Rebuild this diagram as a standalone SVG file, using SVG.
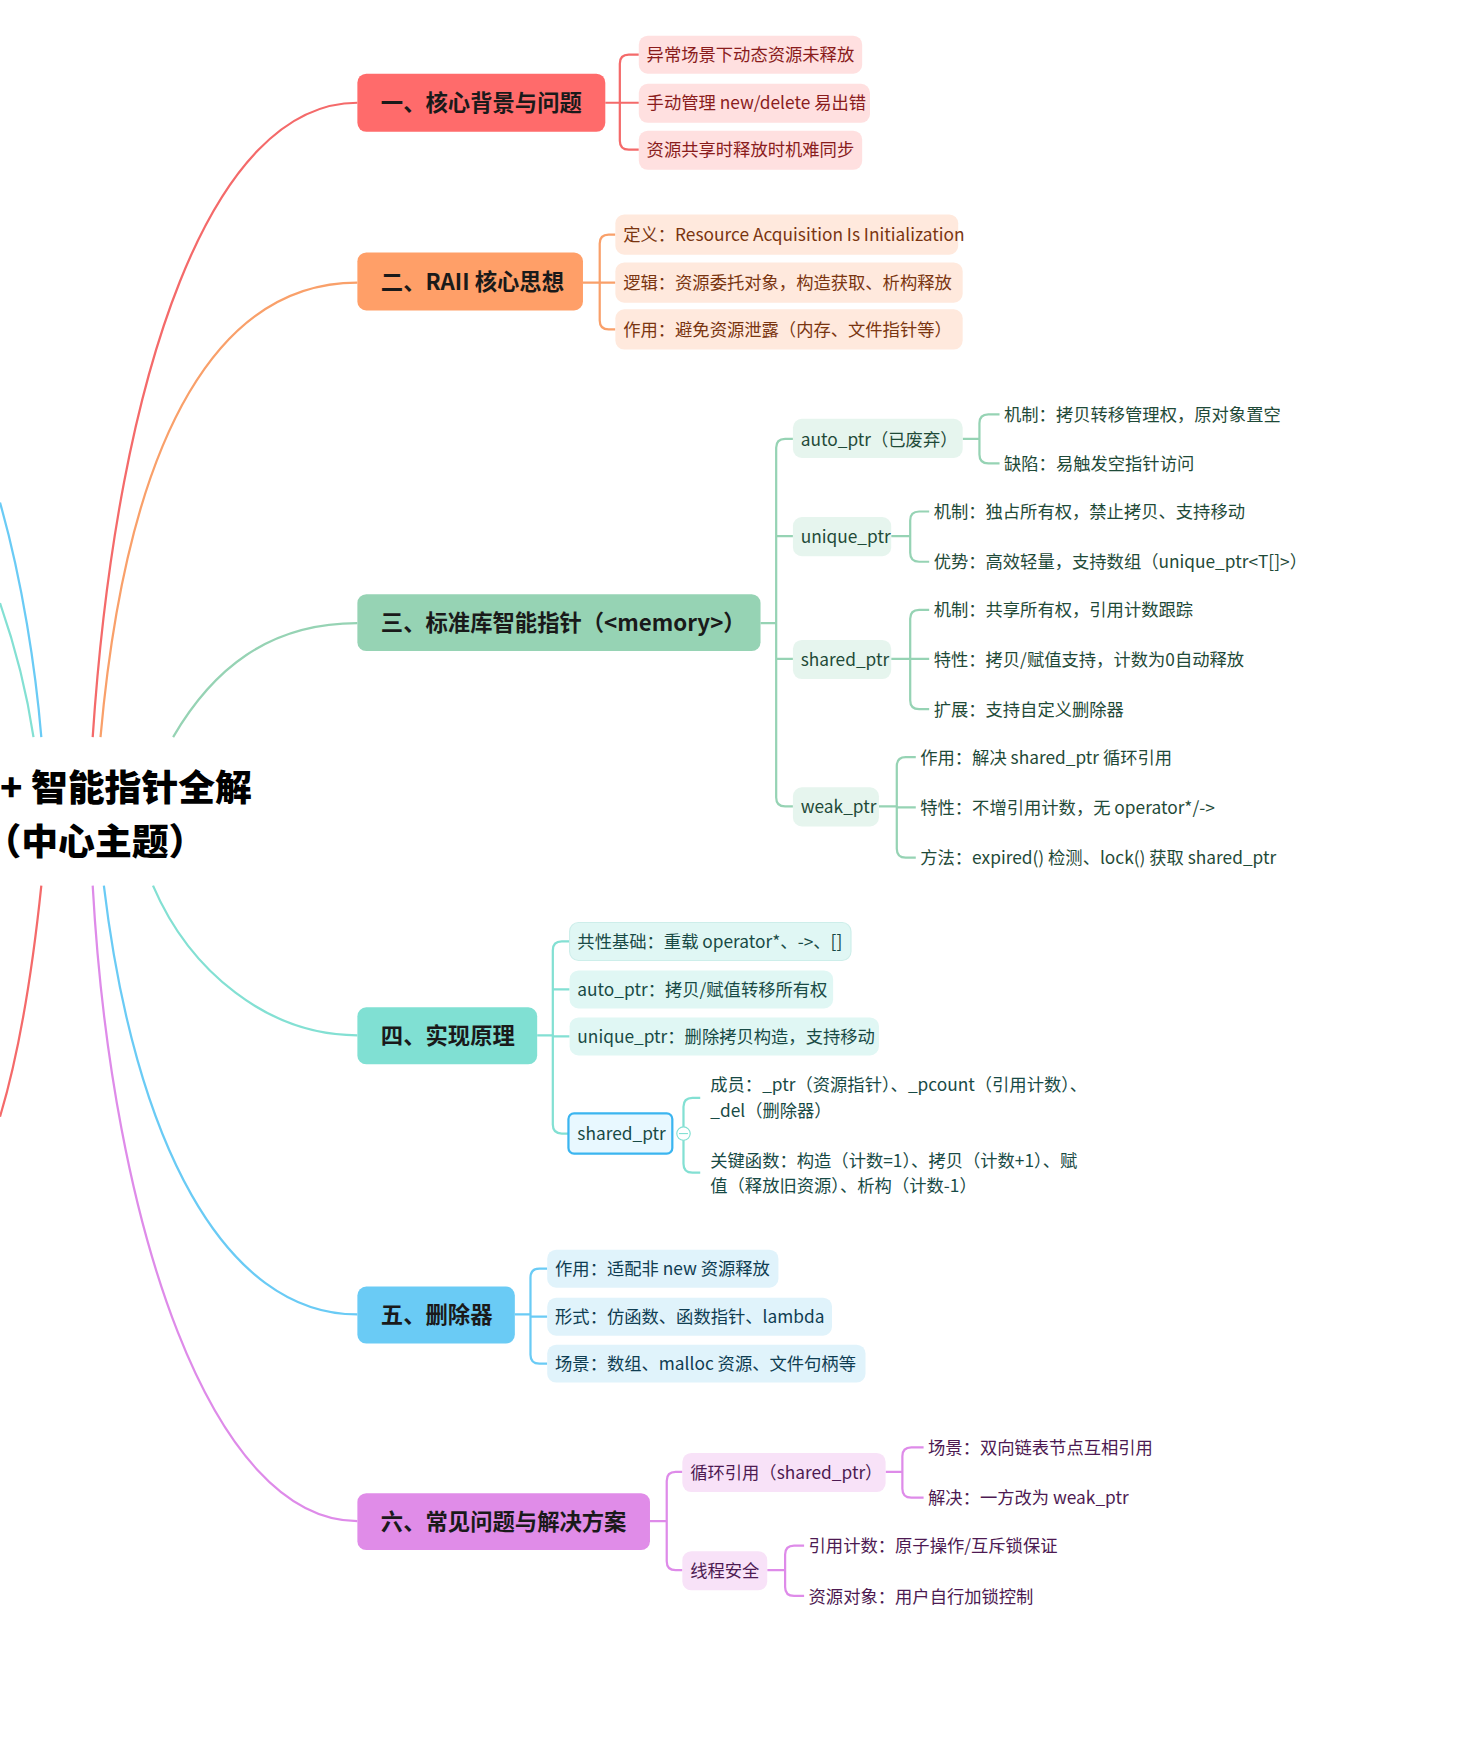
<svg xmlns="http://www.w3.org/2000/svg" width="1482" height="1747" viewBox="0 0 1482 1747">
<style>
text{font-family:"Noto Sans CJK SC","Noto Sans",sans-serif;font-size:15.5px}
.main{font-size:20px;font-weight:bold;fill:#1a1a1a}
.root{font-size:33px;font-weight:900;fill:#000}
.c{fill:none;stroke-width:2}
.r{stroke:#F46A6A}.o{stroke:#F9A06A}.g{stroke:#96D3B4}.t{stroke:#83E0D3}.b{stroke:#6ACBF5}.p{stroke:#DE8BE9}
.tr{fill:#8a1c1c}.to{fill:#7a3510}.tg{fill:#1f4a38}.tt{fill:#184a45}.tb{fill:#0f3d52}.tp{fill:#4d1a52}
</style>
<rect width="1482" height="1747" fill="#fff"/>
<g transform="scale(1.1168)">
<g id="connectors">
<path class="c r" d="M83 660 C105 330 190 92 320 92"/>
<path class="c o" d="M90 660 C115 380 200 253 320 253"/>
<path class="c g" d="M155 660 C190 600 240 558 320 558"/>
<path class="c t" d="M137 793 C170 870 240 927 320 927"/>
<path class="c b" d="M93 793 C120 1020 200 1177 320 1177"/>
<path class="c p" d="M83 793 C100 1100 190 1362 320 1362"/>
<path class="c b" d="M0 450 C20 520 32 600 37 660"/>
<path class="c t" d="M0 540 C14 580 24 620 30 660"/>
<path class="c r" d="M37 793 C30 860 18 940 0 1000"/>
<path class="c r" d="M542 92 H555 M572 49 H563 Q555 49 555 57 V126 Q555 134 563 134 H572 M555 92 H572"/>
<path class="c o" d="M522 253 H537 M551 210 H545 Q537 210 537 218 V287 Q537 295 545 295 H551 M537 253 H551"/>
<path class="c g" d="M681 558 H695 M710 393 H703 Q695 393 695 401 V714 Q695 722 703 722 H710 M695 480 H710 M695 590 H710"/>
<path class="c g" d="M862 393 H877 M895 371 H885 Q877 371 877 379 V407 Q877 415 885 415 H895"/>
<path class="c g" d="M798 480 H815 M832 458 H823 Q815 458 815 466 V495 Q815 503 823 503 H832"/>
<path class="c g" d="M798 590 H815 M832 546 H823 Q815 546 815 554 V627 Q815 635 823 635 H832 M815 590 H832"/>
<path class="c g" d="M787 722 H803 M820 678 H811 Q803 678 803 686 V760 Q803 768 811 768 H820 M803 723 H820"/>
<path class="c t" d="M481 927 H495 M510 843 H503 Q495 843 495 851 V1007 Q495 1015 503 1015 H509 M495 886 H510 M495 928 H510"/>
<path class="c t" d="M618 1015 H612 M627 983 H620 Q612 983 612 991 V1042 Q612 1050 620 1050 H627"/>
<path class="c b" d="M461 1177 H475 M490 1136 H483 Q475 1136 475 1144 V1213 Q475 1221 483 1221 H490 M475 1179 H490"/>
<path class="c p" d="M582 1362 H597 M611 1318 H605 Q597 1318 597 1326 V1398 Q597 1406 605 1406 H611"/>
<path class="c p" d="M793 1318 H808 M827 1296 H816 Q808 1296 808 1304 V1333 Q808 1341 816 1341 H827"/>
<path class="c p" d="M687 1406 H703 M720 1384 H711 Q703 1384 703 1392 V1421 Q703 1429 711 1429 H720"/>
</g>
<g id="root">
<text class="root" x="0" y="717">+ 智能指针全解</text>
<text class="root" x="-14" y="766">（中心主题）</text>
</g>
<g id="n1"><rect x="320" y="66" width="222" height="52" rx="8" fill="#FF6B6B"/><text class="main" x="341" y="99">一、核心背景与问题</text></g>
<g id="n1a"><rect x="572" y="32" width="200" height="34" rx="8" fill="#FFE0E0"/><text class="tr" x="579" y="55">异常场景下动态资源未释放</text></g>
<g id="n1b"><rect x="572" y="75" width="207" height="35" rx="8" fill="#FFE0E0"/><text class="tr" x="579" y="98">手动管理 new/delete 易出错</text></g>
<g id="n1c"><rect x="572" y="117" width="200" height="35" rx="8" fill="#FFE0E0"/><text class="tr" x="579" y="140">资源共享时释放时机难同步</text></g>

<g id="n2"><rect x="320" y="226" width="202" height="52" rx="8" fill="#FF9F68"/><text class="main" x="341" y="260">二、RAII 核心思想</text></g>
<g id="n2a"><rect x="551" y="192" width="307" height="36" rx="8" fill="#FFE9DD"/><text class="to" x="558" y="216">定义：Resource Acquisition Is Initialization</text></g>
<g id="n2b"><rect x="551" y="235" width="311" height="36" rx="8" fill="#FFE9DD"/><text class="to" x="558" y="259">逻辑：资源委托对象，构造获取、析构释放</text></g>
<g id="n2c"><rect x="551" y="277" width="311" height="36" rx="8" fill="#FFE9DD"/><text class="to" x="558" y="301">作用：避免资源泄露（内存、文件指针等）</text></g>

<g id="n3"><rect x="320" y="532" width="361" height="51" rx="8" fill="#96D3B4"/><text class="main" x="341" y="565">三、标准库智能指针（&lt;memory&gt;）</text></g>
<g id="n3a"><rect x="710" y="375" width="152" height="35" rx="8" fill="#E6F5EE"/><text class="tg" x="717" y="399">auto_ptr（已废弃）</text></g>
<g id="n3a1"><text class="tg" x="899" y="377">机制：拷贝转移管理权，原对象置空</text></g>
<g id="n3a2"><text class="tg" x="899" y="421">缺陷：易触发空指针访问</text></g>
<g id="n3b"><rect x="710" y="463" width="88" height="35" rx="8" fill="#E6F5EE"/><text class="tg" x="717" y="486">unique_ptr</text></g>
<g id="n3b1"><text class="tg" x="836" y="464">机制：独占所有权，禁止拷贝、支持移动</text></g>
<g id="n3b2"><text class="tg" x="836" y="509">优势：高效轻量，支持数组（unique_ptr&lt;T[]&gt;）</text></g>
<g id="n3c"><rect x="710" y="573" width="88" height="35" rx="8" fill="#E6F5EE"/><text class="tg" x="717" y="596">shared_ptr</text></g>
<g id="n3c1"><text class="tg" x="836" y="552">机制：共享所有权，引用计数跟踪</text></g>
<g id="n3c2"><text class="tg" x="836" y="596">特性：拷贝/赋值支持，计数为0自动释放</text></g>
<g id="n3c3"><text class="tg" x="836" y="641">扩展：支持自定义删除器</text></g>
<g id="n3d"><rect x="710" y="705" width="77" height="35" rx="8" fill="#E6F5EE"/><text class="tg" x="717" y="728">weak_ptr</text></g>
<g id="n3d1"><text class="tg" x="824" y="684">作用：解决 shared_ptr 循环引用</text></g>
<g id="n3d2"><text class="tg" x="824" y="729">特性：不增引用计数，无 operator*/-&gt;</text></g>
<g id="n3d3"><text class="tg" x="824" y="774">方法：expired() 检测、lock() 获取 shared_ptr</text></g>

<g id="n4"><rect x="320" y="902" width="161" height="51" rx="8" fill="#80E0D3"/><text class="main" x="341" y="935">四、实现原理</text></g>
<g id="n4a"><rect x="510" y="826" width="252" height="34" rx="8" fill="#E0F7F4" stroke="#cdeeea"/><text class="tt" x="517" y="849">共性基础：重载 operator*、-&gt;、[]</text></g>
<g id="n4b"><rect x="510" y="869" width="236" height="34" rx="8" fill="#E0F7F4"/><text class="tt" x="517" y="892">auto_ptr：拷贝/赋值转移所有权</text></g>
<g id="n4c"><rect x="510" y="911" width="277" height="34" rx="8" fill="#E0F7F4"/><text class="tt" x="517" y="934">unique_ptr：删除拷贝构造，支持移动</text></g>
<g id="n4d"><rect x="509" y="997" width="93" height="36" rx="5" fill="#E8F8FF" stroke="#3BB5F0" stroke-width="2"/><text class="tt" x="517" y="1021">shared_ptr</text>
<circle cx="612" cy="1015" r="6" fill="#fff" stroke="#83E0D3" stroke-width="1"/><path d="M608 1015 H616" stroke="#83E0D3" stroke-width="1"/></g>
<g id="n4d1"><text class="tt" x="636" y="977">成员：_ptr（资源指针）、_pcount（引用计数）、</text><text class="tt" x="636" y="1000">_del（删除器）</text></g>
<g id="n4d2"><text class="tt" x="636" y="1045">关键函数：构造（计数=1）、拷贝（计数+1）、赋</text><text class="tt" x="636" y="1067">值（释放旧资源）、析构（计数-1）</text></g>

<g id="n5"><rect x="320" y="1152" width="141" height="51" rx="8" fill="#6ACBF5"/><text class="main" x="341" y="1185">五、删除器</text></g>
<g id="n5a"><rect x="490" y="1119" width="207" height="34" rx="8" fill="#E0F3FB"/><text class="tb" x="497" y="1142">作用：适配非 new 资源释放</text></g>
<g id="n5b"><rect x="490" y="1162" width="255" height="34" rx="8" fill="#E0F3FB"/><text class="tb" x="497" y="1185">形式：仿函数、函数指针、lambda</text></g>
<g id="n5c"><rect x="490" y="1204" width="285" height="34" rx="8" fill="#E0F3FB"/><text class="tb" x="497" y="1227">场景：数组、malloc 资源、文件句柄等</text></g>

<g id="n6"><rect x="320" y="1337" width="262" height="51" rx="8" fill="#E08CE8"/><text class="main" x="341" y="1370">六、常见问题与解决方案</text></g>
<g id="n6a"><rect x="611" y="1301" width="182" height="35" rx="8" fill="#F8E2F8"/><text class="tp" x="618" y="1324">循环引用（shared_ptr）</text></g>
<g id="n6a1"><text class="tp" x="831" y="1302">场景：双向链表节点互相引用</text></g>
<g id="n6a2"><text class="tp" x="831" y="1347">解决：一方改为 weak_ptr</text></g>
<g id="n6b"><rect x="611" y="1389" width="76" height="35" rx="8" fill="#F8E2F8"/><text class="tp" x="618" y="1412">线程安全</text></g>
<g id="n6b1"><text class="tp" x="724" y="1390">引用计数：原子操作/互斥锁保证</text></g>
<g id="n6b2"><text class="tp" x="724" y="1435">资源对象：用户自行加锁控制</text></g>
</g>
</svg>
